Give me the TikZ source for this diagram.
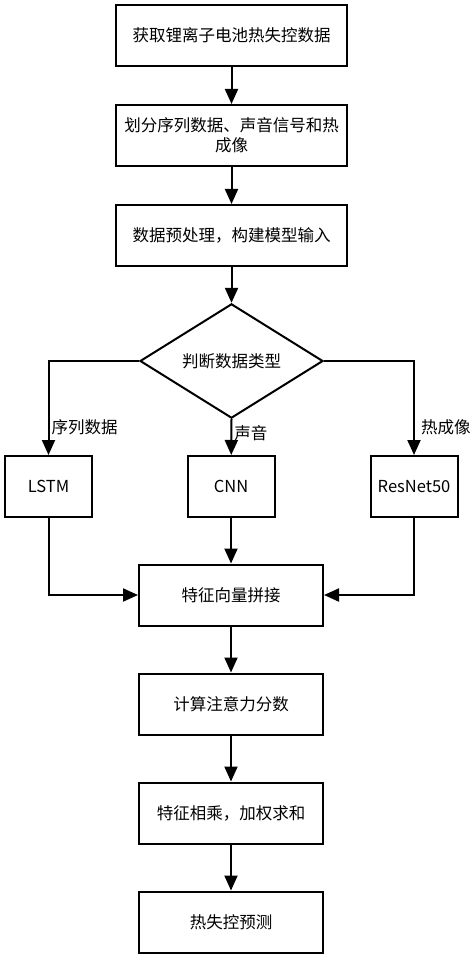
\documentclass[tikz,border=0pt]{standalone}
\usepackage{fontspec}
\setmainfont{Noto Sans CJK SC}
\usetikzlibrary{shapes.geometric,arrows.meta}

\begin{document}
\begin{tikzpicture}[x=1pt,y=-1pt,
  every node/.style={font=\fontsize{16.5}{20}\selectfont},
  box/.style={draw, line width=2pt, minimum width=231pt, minimum height=61pt, inner sep=0pt, align=center},
  smallbox/.style={box, minimum width=184pt},
  netbox/.style={box, minimum width=87pt},
  judge/.style={draw, diamond, line width=2pt, minimum width=183pt, minimum height=112pt, inner sep=0pt},
  lbl/.style={anchor=west, inner sep=2pt},
  flow/.style={line width=2pt, -{Triangle[length=15pt,width=13pt]}}]
  %uncomment to see the pixel grid of the reference:
  %\draw[dotted,step=50,black,very thin] (0,0) grid (474,957);
  \useasboundingbox (0,0) rectangle (474,957);

  % main column
  \node[box] (data) at (231.5,35.5) {获取锂离子电池热失控数据};
  \node[box] (split) at (231.5,135.5) {划分序列数据、声音信号和热\\成像};
  \node[box] (prep) at (231.5,235.5) {数据预处理，构建模型输入};
  \node[judge] (type) at (231.5,361) {判断数据类型};
  % one network for each kind of data
  \node[netbox] (lstm) at (48.5,486.5) {LSTM};
  \node[netbox] (cnn) at (231,486.5) {CNN};
  \node[netbox] (resnet) at (414,486.5) {ResNet50};
  % fusion and prediction
  \node[smallbox] (concat) at (231,595) {特征向量拼接};
  \node[smallbox] (score) at (231,704) {计算注意力分数};
  \node[smallbox] (weight) at (231,813) {特征相乘，加权求和};
  \node[smallbox] (predict) at (231,922) {热失控预测};

  % arrows down the column
  \draw[flow] (data) -- (split);
  \draw[flow] (split) -- (prep);
  \draw[flow] (prep) -- (type);
  % branches out of the decision
  \draw[flow] (type.west) -| node[pos=0.85, lbl] {序列数据} (lstm);
  \draw[flow] (type.south) -- node[pos=0.38, lbl] {声音} (cnn);
  \draw[flow] (type.east) -| node[pos=0.85, lbl, xshift=4pt] {热成像} (resnet);
  % branches join again
  \draw[flow] (lstm) |- (concat);
  \draw[flow] (cnn) -- (concat);
  \draw[flow] (resnet) |- (concat);
  \draw[flow] (concat) -- (score);
  \draw[flow] (score) -- (weight);
  \draw[flow] (weight) -- (predict);
\end{tikzpicture}
\end{document}
